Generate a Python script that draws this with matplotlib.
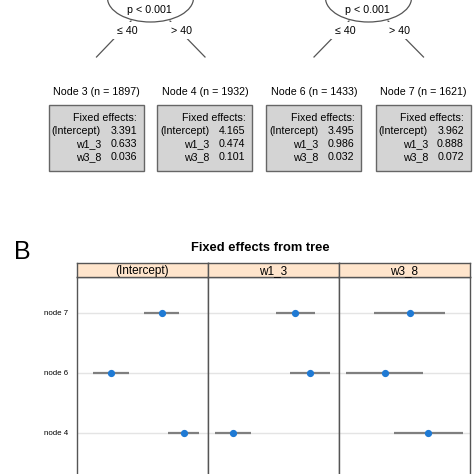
import matplotlib
matplotlib.use("Agg")
import matplotlib.pyplot as plt
from matplotlib.patches import Ellipse, Rectangle

plt.rcParams['font.family'] = ['Liberation Sans', 'DejaVu Sans']

# ---- panel A: terminal nodes of the tree ----
node_ids = [3, 4, 6, 7]
node_n = [1897, 1932, 1433, 1621]
coef_names = ["(Intercept)", "w1_3", "w3_8"]
coef_intercept = [3.391, 4.165, 3.495, 3.962]
coef_w1_3 = [0.633, 0.474, 0.986, 0.888]
coef_w3_8 = [0.036, 0.101, 0.032, 0.072]
split_labels = ["\u2264 40", "> 40"]
split_p = "p < 0.001"

# ---- panel B: fixed effects with intervals ----
dot_nodes = ["node 4", "node 6", "node 7"]
panel_names = ["(Intercept)", "w1_3", "w3_8"]
est = {
    "(Intercept)": [4.165, 3.495, 3.962],
    "w1_3": [0.474, 0.986, 0.888],
    "w3_8": [0.101, 0.032, 0.072],
}
lower = {
    "(Intercept)": [4.024, 3.330, 3.800],
    "w1_3": [0.352, 0.850, 0.757],
    "w3_8": [0.046, -0.030, 0.015],
}
upper = {
    "(Intercept)": [4.308, 3.666, 4.124],
    "w1_3": [0.590, 1.121, 1.019],
    "w3_8": [0.157, 0.094, 0.129],
}
xlims = {
    "(Intercept)": (3.186, 4.388),
    "w1_3": (0.305, 1.180),
    "w3_8": (-0.042, 0.169),
}

W = H = 474
fig = plt.figure(figsize=(4.74, 4.74), dpi=100)

# pixel-space layer for the tree part
ax0 = fig.add_axes([0, 0, 1, 1])
ax0.set_xlim(0, W)
ax0.set_ylim(H, 0)
ax0.axis('off')

fs = 7.7
edge_col = '#555555'

# split nodes (cropped at the top)
split_x = [150.5, 368.5]
node_x = [96.5, 205.0, 314.0, 423.5]
label_off = [-23.5, 31.0]
for k, sx in enumerate(split_x):
    ax0.add_patch(Ellipse((sx, -2), 86, 48, facecolor='white',
                          edgecolor=edge_col, lw=0.9, zorder=3))
    ax0.text(sx - 1, 9.5, split_p, fontsize=fs, ha='center', va='center', zorder=4)
    for j in range(2):
        tx = node_x[2 * k + j]
        x0 = sx - 19.5 if j == 0 else sx + 19.5
        ax0.plot([x0, tx], [21, 57], color=edge_col, lw=0.9, zorder=1)
        ax0.text(sx + label_off[j], 30.5, split_labels[j], fontsize=fs,
                 ha='center', va='center', zorder=2,
                 bbox=dict(facecolor='white', edgecolor='none', pad=2.5))

# terminal node boxes
box_w, box_top, box_h = 95, 104.5, 66
for i, nx in enumerate(node_x):
    ax0.text(nx, 92.3, f"Node {node_ids[i]} (n = {node_n[i]})", fontsize=fs,
             ha='center', va='center')
    ax0.add_patch(Rectangle((nx - box_w / 2, box_top), box_w, box_h,
                            facecolor='#d4d4d4', edgecolor='#666666', lw=1.0))
    right = nx + box_w / 2 - 7
    ax0.text(right, 118.3, "Fixed effects:", fontsize=fs, ha='right', va='center')
    vals = [coef_intercept[i], coef_w1_3[i], coef_w3_8[i]]
    for r, (name, v) in enumerate(zip(coef_names, vals)):
        yy = 131.5 + 12.9 * r
        ax0.text(right - 36, yy, name, fontsize=fs, ha='right', va='center')
        ax0.text(right, yy, f"{v:.3f}", fontsize=fs, ha='right', va='center')

# panel B heading
ax0.text(22, 252, "B", fontsize=18, ha='center', va='center')
ax0.text(260, 248, "Fixed effects from tree", fontsize=9.3, fontweight='bold',
         ha='center', va='center')

# dot plot panels
left_px = [77, 208, 339]
pw = 131
top_px = 277
strip_h = 14
ypos = [1, 2, 3]
for p, name in enumerate(panel_names):
    ax = fig.add_axes([left_px[p] / W, 0, pw / W, 1 - top_px / H])
    ax.set_xlim(*xlims[name])
    ax.set_ylim(0.312, 3.595)
    for y in ypos:
        ax.axhline(y, color='#e4e4e4', lw=1.0, zorder=1)
    ax.hlines(ypos, lower[name], upper[name], color='#7f7f7f', lw=1.6, zorder=2)
    ax.plot(est[name], ypos, 'o', color='#1f7ad4', ms=4.2, zorder=3)
    ax.set_xticks([])
    ax.set_yticks(ypos)
    if p == 0:
        ax.set_yticklabels(dot_nodes, fontsize=5.7)
        ax.tick_params(axis='y', length=0, pad=6.3)
    else:
        ax.set_yticklabels([])
        ax.tick_params(axis='y', length=0)
    for s in ['left', 'right', 'top']:
        ax.spines[s].set_color('#555555')
        ax.spines[s].set_linewidth(1.0)
    ax.spines['bottom'].set_visible(False)

    sax = fig.add_axes([left_px[p] / W, 1 - (top_px) / H, pw / W, strip_h / H])
    sax.set_facecolor('#ffe5cc')
    sax.set_xticks([])
    sax.set_yticks([])
    for s in sax.spines.values():
        s.set_color('#555555')
        s.set_linewidth(1.0)
    sax.text(0.5, 0.45, name, fontsize=8.5, ha='center', va='center',
             transform=sax.transAxes)

fig.savefig("out.png", dpi=100)
